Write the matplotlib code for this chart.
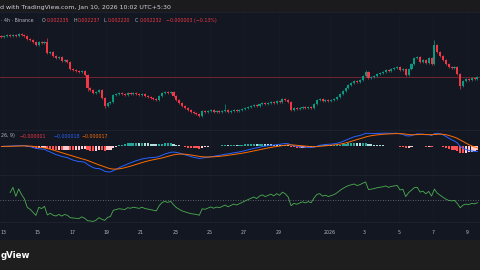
import numpy as np
import pandas as pd
import matplotlib
matplotlib.use('Agg')
import matplotlib.pyplot as plt
from matplotlib import patches
from matplotlib.transforms import blended_transform_factory

# 4h closes (price * 1e6), open = previous close
CLOSE_E6 = [
    2272, 2273, 2274, 2273, 2274, 2273, 2275, 2274, 2273, 2270,
    2269, 2267, 2264, 2267, 2266, 2267, 2256, 2257, 2253, 2251,
    2252, 2248, 2249, 2247, 2240, 2239, 2238, 2237, 2238, 2234,
    2221, 2219, 2216, 2217, 2219, 2211, 2203, 2206, 2207, 2214,
    2215, 2216, 2215, 2214, 2216, 2215, 2216, 2215, 2214, 2215,
    2213, 2212, 2211, 2210, 2209, 2213, 2216, 2217, 2216, 2217,
    2213, 2209, 2206, 2203, 2201, 2199, 2197, 2196, 2195, 2193,
    2198, 2197, 2198, 2199, 2197, 2198, 2197, 2198, 2199, 2197,
    2198, 2199, 2198, 2199, 2200, 2201, 2202, 2203, 2204, 2203,
    2205, 2206, 2205, 2206, 2207, 2206, 2208, 2207, 2210, 2209,
    2207, 2199, 2201, 2200, 2201, 2202, 2201, 2202, 2201, 2205,
    2209, 2210, 2208, 2209, 2208, 2209, 2210, 2212, 2215, 2218,
    2221, 2224, 2226, 2228, 2227, 2229, 2233, 2237, 2231, 2232,
    2233, 2235, 2236, 2237, 2239, 2238, 2240, 2241, 2242, 2239,
    2240, 2234, 2240, 2245, 2251, 2252, 2247, 2249, 2246, 2251,
    2245, 2264, 2257, 2253, 2249, 2245, 2242, 2241, 2242, 2235,
    2223, 2228, 2230, 2229, 2231, 2230, 2232,
]
FIRST_OPEN_E6 = 2273
# the longer wicks, candle index -> price * 1e6
WICK_HIGH_E6 = {16: 2271, 78: 2205, 151: 2269, 127: 2239}
WICK_LOW_E6 = {36: 2201, 69: 2192, 160: 2220, 30: 2218}

FIRST_CANDLE_UTC = "2025-12-12 16:00"
DAY_LABELS = ["13", "15", "17", "19", "21", "23", "25", "27", "29", "2026", "3", "5", "7", "9"]
DAY_DATES = ["2025-12-13", "2025-12-15", "2025-12-17", "2025-12-19", "2025-12-21",
             "2025-12-23", "2025-12-25", "2025-12-27", "2025-12-29", "2026-01-01",
             "2026-01-03", "2026-01-05", "2026-01-07", "2026-01-09"]

HEADER_TEXT = "d with TradingView.com, Jan 10, 2026 10:02 UTC+5:30"
OHLC_TEXT = ["0.002235", "0.002237", "0.002220", "0.002232"]
CHANGE_TEXT = "\u22120.000003 (\u22120.13%)"
MACD_NAME = "26, 9)"
MACD_TEXT = ["\u22120.000001", "\u22120.000018", "\u22120.000017"]
LOGO_TEXT = "gView"

BG = "#131722"
UP = "#089981"
DOWN = "#f23645"
TXT = "#b2b5be"


def fx(px):
    return px / 480


def fy(py):
    return 1 - py / 270


close = np.array(CLOSE_E6, dtype=float) * 1e-6
opens = np.r_[FIRST_OPEN_E6 * 1e-6, close[:-1]]
n = len(close)
x = np.arange(n)
highs = np.maximum(opens, close) + 1e-6
lows = np.minimum(opens, close) - 1e-6
for k, v in WICK_HIGH_E6.items():
    highs[k] = v * 1e-6
for k, v in WICK_LOW_E6.items():
    lows[k] = v * 1e-6

# indicators from the closes
s = pd.Series(close)
macd = s.ewm(span=12, adjust=False).mean() - s.ewm(span=26, adjust=False).mean()
signal = macd.ewm(span=9, adjust=False).mean()
hist = macd - signal
delta = s.diff()
gain = delta.clip(lower=0).ewm(alpha=1 / 14, adjust=True).mean()
loss = (-delta.clip(upper=0)).ewm(alpha=1 / 14, adjust=True).mean()
rsi = (100 - 100 / (1 + gain / loss)).to_numpy()
rsi[:3] = np.nan

t0 = pd.Timestamp(FIRST_CANDLE_UTC, tz="UTC")
tick_idx = [(pd.Timestamp(d, tz="Asia/Kolkata") - t0) / pd.Timedelta("4h") for d in DAY_DATES]

xlim = (-0.52, 166.9)

fig = plt.figure(figsize=(4.8, 2.7), dpi=100)
fig.patch.set_facecolor(BG)
fig.add_artist(patches.Rectangle((0, fy(12)), 1, 12 / 270, transform=fig.transFigure,
                                 color="#1b1b1d", zorder=0))
fig.add_artist(patches.Rectangle((0, 0), 1, 30 / 270, transform=fig.transFigure,
                                 color="#1e1e1e", zorder=0))

ax = fig.add_axes([0, fy(130), 1, 118 / 270])
axm = fig.add_axes([0, fy(175), 1, 45 / 270])
axr = fig.add_axes([0, fy(222), 1, 47 / 270])
for a in (ax, axm, axr):
    a.set_facecolor(BG)
    a.set_xlim(*xlim)
    a.set_xticks([])
    a.set_yticks([])
    for sp in a.spines.values():
        sp.set_visible(False)
    for t in tick_idx:
        a.axvline(t, color="#171b27", lw=0.6, zorder=0)

# candles
colors = np.where(close >= opens, UP, DOWN)
body_lo = np.minimum(opens, close)
body_h = np.maximum(np.abs(close - opens), 0.7e-6)
ax.vlines(x, lows, highs, colors=colors, lw=0.5, zorder=2)
ax.bar(x, body_h, bottom=body_lo, width=0.72, color=colors, linewidth=0, zorder=3)
ax.axhline(close[-1], color=DOWN, lw=0.5, alpha=0.6, zorder=1)
ax.set_ylim(2179e-6, 2297e-6)

# MACD pane
hcol = []
for i, h in enumerate(hist):
    prev = hist[i - 1] if i > 0 else 0
    if h >= 0:
        hcol.append("#26a69a" if h > prev else "#b2dfdb")
    else:
        hcol.append("#ff5252" if h < prev else "#ffcdd2")
axm.bar(x, hist, width=0.75, color=hcol, linewidth=0, zorder=2)
axm.plot(x, macd, color="#2962ff", lw=0.7, zorder=3)
axm.plot(x, signal, color="#ff6d00", lw=0.7, zorder=3)
lo = min(macd.min(), signal.min(), hist.min())
hi = max(macd.max(), signal.max(), hist.max())
pad = (hi - lo) * 0.08
axm.set_ylim(lo - pad, hi + pad)

# RSI pane: 50 line at y=200px, highest value near y=182px
axr.plot(x, rsi, color="#4caf50", lw=0.6, zorder=3)
axr.axhline(50, color="#787b86", lw=0.6, ls=(0, (1, 2)), zorder=2)
ppu = 18 / (np.nanmax(rsi[14:]) - 50)
axr.set_ylim(50 - 22 / ppu, 50 + 25 / ppu)

# pane separators
for py in (12, 130, 175, 222):
    fig.add_artist(plt.Line2D([0, 1], [fy(py), fy(py)], transform=fig.transFigure,
                              color="#222633", lw=0.5))

# texts
fig.text(fx(0.5), fy(7), HEADER_TEXT, color="#d1d4dc", fontsize=4.5, va="center", ha="left")
fig.text(fx(1), fy(21), "\u00b7 4h \u00b7 Binance", color=TXT, fontsize=3.4, va="center")
for lab, val, px in zip("OHLC", OHLC_TEXT, [42, 73, 103, 135]):
    fig.text(fx(px), fy(21), lab, color=TXT, fontsize=3.4, va="center")
    fig.text(fx(px + 4.5), fy(21), val, color=DOWN, fontsize=3.4, va="center")
fig.text(fx(166), fy(21), CHANGE_TEXT, color=DOWN, fontsize=3.4, va="center")

fig.text(fx(1), fy(136), MACD_NAME, color=TXT, fontsize=3.4, va="center", ha="left")
for val, px, col in zip(MACD_TEXT, [20, 53, 82], [DOWN, "#2962ff", "#ff6d00"]):
    fig.text(fx(px), fy(136), val, color=col, fontsize=3.4, va="center")

tr = blended_transform_factory(axr.transData, fig.transFigure)
for t, lab in zip(tick_idx, DAY_LABELS):
    axr.text(t, fy(233), lab, transform=tr, color=TXT, fontsize=3.4,
             ha="center", va="center", clip_on=False)

fig.text(fx(0.5), fy(255), LOGO_TEXT, color="#ffffff", fontsize=6.2,
         fontweight="bold", ha="left", va="center")

fig.savefig("out.png", dpi=100, facecolor=fig.get_facecolor())
